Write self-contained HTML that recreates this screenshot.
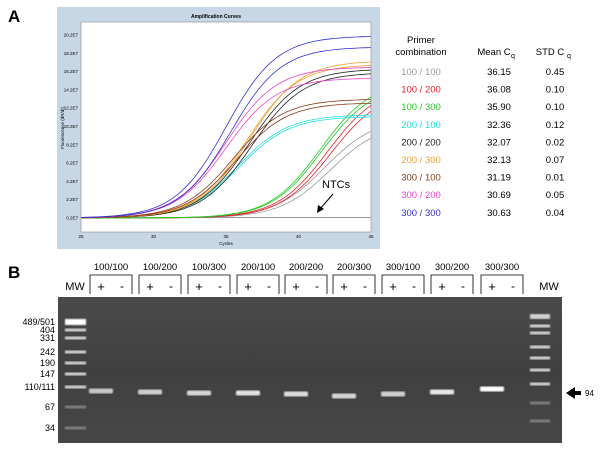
<!DOCTYPE html>
<html><head><meta charset="utf-8"><style>
body{margin:0;width:600px;height:450px;background:#fff;overflow:hidden;font-family:"Liberation Sans",sans-serif;}
svg{display:block}
</style></head><body>
<svg id="fig" width="600" height="450" viewBox="0 0 600 450">
<text x="8" y="22" font-size="17" font-weight="bold">A</text>
<rect x="57" y="7" width="323" height="242" fill="#c7d7e5"/>
<rect x="81" y="22" width="290" height="210" fill="#fff" stroke="#888" stroke-width="0.6"/>
<text x="216" y="18" font-size="5" font-weight="bold" text-anchor="middle">Amplification Curves</text>
<text x="64" y="128" font-size="4.5" text-anchor="middle" transform="rotate(-90 64 128)">Fluorescence (dR/dt)</text>
<text x="226" y="245" font-size="4.5" text-anchor="middle">Cycles</text>
<g id="yticks"></g><g id="xticks"></g><g id="curves"></g>
<text x="322" y="188" font-size="11">NTCs</text>
<line x1="333" y1="194" x2="320" y2="209" stroke="#000" stroke-width="1"/>
<polygon points="317,213 318,205 324,209" fill="#000"/>
<g id="table" font-size="9.5"></g>
<text x="8" y="278" font-size="17" font-weight="bold">B</text>
<defs><linearGradient id="gg" x1="0" y1="0" x2="0" y2="1"><stop offset="0" stop-color="#4a4a4a"/><stop offset="0.5" stop-color="#404040"/><stop offset="1" stop-color="#474747"/></linearGradient>
<filter id="bl"><feGaussianBlur stdDeviation="0.8"/></filter></defs>
<rect x="58" y="297" width="504" height="146" fill="url(#gg)"/>
<g id="gel"></g>
</svg>
<script>
const NS='http://www.w3.org/2000/svg';
function mk(tag,attrs,parent,txt){const e=document.createElementNS(NS,tag);for(const k in attrs)e.setAttribute(k,attrs[k]);if(txt!==undefined)e.textContent=txt;parent.appendChild(e);return e;}
// chart data
const combos=['100 / 100','100 / 200','100 / 300','200 / 100','200 / 200','200 / 300','300 / 100','300 / 200','300 / 300'];
const comboColors=['#999999','#e0242a','#22cc22','#22dddd','#222222','#f2a030','#8b3a1a','#ee44cc','#3333cc'];
const meanCq=['36.15','36.08','35.90','32.36','32.07','32.13','31.19','30.69','30.63'];
const stdCq=['0.45','0.10','0.10','0.12','0.02','0.07','0.01','0.05','0.04'];
// curve midpoints (cycle) and plateaus (fluorescence) per replicate
const midA=[41.8,42.0,41.5,35.8,36.6,36.6,35.5,35.0,35.0];
const midB=[42.2,42.2,41.6,35.9,36.8,36.4,35.7,35.0,35.3];
const platA=[11.0,14.5,15.0,11.3,16.3,17.2,13.0,16.5,19.9];
const platB=[10.5,14.0,14.6,11.1,15.9,16.8,12.6,15.3,18.7];
const yTicks=['0.2E7','2.2E7','4.2E7','6.2E7','8.2E7','10.2E7','12.2E7','14.2E7','16.2E7','18.2E7','20.2E7'];
const xTicks=[25,30,35,40,45];
const sx=c=>81+(c-25)*(290/20);
const sy=v=>218-v*(183/20);
const yt=document.getElementById('yticks');
yTicks.forEach((t,i)=>{const e=mk('text',{x:78,y:sy(i*2)+1.5,'font-size':4.5,'text-anchor':'end'},yt,t);

});
const xt=document.getElementById('xticks');
xTicks.forEach(c=>{const e=mk('text',{x:sx(c),y:238,'font-size':4.5,'text-anchor':'middle'},xt,c);

});
const cg=document.getElementById('curves');
function curve(mid,plat,col){let d='';for(let c=25;c<=45.001;c+=0.25){const v=plat/(1+Math.exp(-(c-mid)/1.75));d+=(d?'L':'M')+sx(c).toFixed(1)+','+sy(v).toFixed(1);}
const p=mk('path',{d:d,fill:'none',stroke:col,'stroke-width':0.8},cg);

}
const ntc=mk('line',{x1:81,y1:sy(0.05),x2:371,y2:sy(0.05),stroke:'#999','stroke-width':1},cg);


combos.forEach((c,i)=>{curve(midA[i],platA[i],comboColors[i]);curve(midB[i],platB[i],comboColors[i]);});
// table
const tb=document.getElementById('table');
[['Primer',421,43],['combination',421,55],['Mean C',494,55],['STD C',550,55]].forEach(h=>{const e=mk('text',{x:h[1],y:h[2],'text-anchor':'middle'},tb,h[0]);

});
[[511,58],[567,58]].forEach(p=>{const e=mk('text',{x:p[0],y:p[1],'font-size':7},tb,'q');

});
combos.forEach((c,i)=>{const y=75+i*17.6;
const a=mk('text',{x:421,y:y,'text-anchor':'middle',fill:comboColors[i]},tb,c);


const b=mk('text',{x:499,y:y,'text-anchor':'middle'},tb,meanCq[i]);


const s=mk('text',{x:555,y:y,'text-anchor':'middle'},tb,stdCq[i]);

});
// gel data
const laneLabels=['100/100','100/200','100/300','200/100','200/200','200/300','300/100','300/200','300/300'];
const plusX=[101,150,199,248,296,344,393,442,492];
const bandBright=[0.7,0.75,0.78,0.85,0.82,0.78,0.75,0.88,1.0];
const bandY=[391,392,393,393,394,396,394,392,389];
const ladderLabels=['489/501','404','331','242','190','147','110/111','67','34'];
const ladderY=[322,330,338,352,363,374,387,407,428];
const ladderRY=[317,326,333,347,358,370,384,403,421];
const gel=document.getElementById('gel');
ladderLabels.forEach((l,i)=>{const t=mk('text',{x:55,y:ladderY[i]+3,'font-size':9,'text-anchor':'end'},gel,l);


const op=i<7?(i==0?1:0.75):0.3;
const b=mk('rect',{x:65,y:ladderY[i]-(i==0?3:1.5),width:21,height:i==0?6:3,fill:'#fff',opacity:op,filter:'url(#bl)'},gel);


const r=mk('rect',{x:530,y:ladderRY[i]-(i==0?3:1.5),width:20,height:i==0?5:3,fill:'#fff',opacity:i<7?0.75:0.3,filter:'url(#bl)'},gel);

});
laneLabels.forEach((l,i)=>{const x=plusX[i];
const t=mk('text',{x:x+10,y:270,'font-size':9.5,'text-anchor':'middle'},gel,l);


const br=mk('path',{d:`M${x-11},294V275H${x+31}V294`,fill:'none',stroke:'#000','stroke-width':0.8},gel);


const p=mk('text',{x:x,y:291,'font-size':13,'text-anchor':'middle'},gel,'+');


const m=mk('text',{x:x+21,y:290,'font-size':12,'text-anchor':'middle'},gel,'-');


const b=mk('rect',{x:x-12,y:bandY[i]-2.5,width:24,height:5,rx:1.5,fill:'#fff',opacity:bandBright[i],filter:'url(#bl)'},gel);

});
[[75,'mw-label-left'],[549,'mw-label-right']].forEach(a=>{const t=mk('text',{x:a[0],y:290,'font-size':11,'text-anchor':'middle'},gel,'MW');

});
const ar=mk('polygon',{points:'566,393 575,387 575,391 581,391 581,395 575,395 575,399'},gel);


const t94=mk('text',{x:585,y:396,'font-size':8},gel,'94');


</script>
</body></html>
